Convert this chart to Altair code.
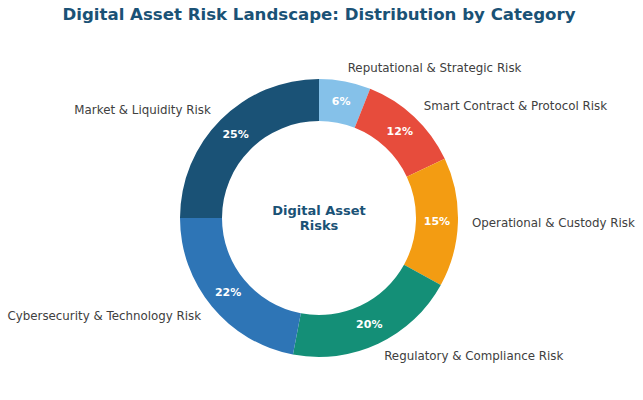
import math
import altair as alt
import pandas as pd

categories = [
    "Reputational & Strategic Risk",
    "Smart Contract & Protocol Risk",
    "Operational & Custody Risk",
    "Regulatory & Compliance Risk",
    "Cybersecurity & Technology Risk",
    "Market & Liquidity Risk",
]
shares = [6, 12, 15, 20, 22, 25]
colors = ["#85c1e9", "#e74c3c", "#f39c12", "#148f77", "#2e75b6", "#1a5276"]

center_lines = ["Digital Asset", "Risks"]

df = pd.DataFrame({"category": categories, "share": shares, "idx": list(range(len(categories)))})

W, H = 638, 356
theta_scale = alt.Scale(domain=[0, 100], range=[0, 2 * math.pi])
FONT = "DejaVu Sans"

base = alt.Chart(df).transform_window(
    cum="sum(share)", sort=[alt.SortField("idx")]
).transform_calculate(
    mid="datum.cum - datum.share / 2", pct="datum.share + '%'"
)

arcs = base.mark_arc(outerRadius=139, innerRadius=97).encode(
    theta=alt.Theta("share:Q", stack=True, scale=theta_scale),
    color=alt.Color("category:N", scale=alt.Scale(domain=categories, range=colors), legend=None),
    order=alt.Order("idx:Q"),
)

pct = base.mark_text(radius=118, font=FONT, fontWeight="bold", fontSize=11, color="white",
                     baseline="middle", align="center").encode(
    theta=alt.Theta("mid:Q", stack=False, scale=theta_scale),
    text="pct:N",
)

right_lbl = base.transform_filter("datum.mid < 50").mark_text(
    radius=153, font=FONT, fontSize=11.85, color="#404040", align="left", baseline="middle"
).encode(theta=alt.Theta("mid:Q", stack=False, scale=theta_scale), text="category:N")

left_lbl = base.transform_filter("datum.mid >= 50").mark_text(
    radius=153, font=FONT, fontSize=11.85, color="#404040", align="right", baseline="middle"
).encode(theta=alt.Theta("mid:Q", stack=False, scale=theta_scale), text="category:N")

center = alt.Chart(pd.DataFrame({"t": ["\n".join(center_lines)]})).mark_text(
    font=FONT, fontWeight="bold", fontSize=13, color="#1a5276", lineBreak="\n",
    align="center", baseline="middle", lineHeight=15
).encode(x=alt.value(W / 2), y=alt.value(H / 2 - 7.5), text="t:N")

chart = alt.layer(arcs, pct, right_lbl, left_lbl, center).properties(
    width=W, height=H,
    title=alt.TitleParams(
        "Digital Asset Risk Landscape: Distribution by Category",
        font=FONT, fontSize=16.6, fontWeight="bold", color="#1a5276", anchor="middle", offset=16,
    ),
    autosize=alt.AutoSizeParams(type="none"),
    padding={"left": 0, "top": 40, "right": 0, "bottom": 0},
).configure_view(stroke=None)

chart.save("out.html", embed_options={"renderer": "svg", "actions": False})
